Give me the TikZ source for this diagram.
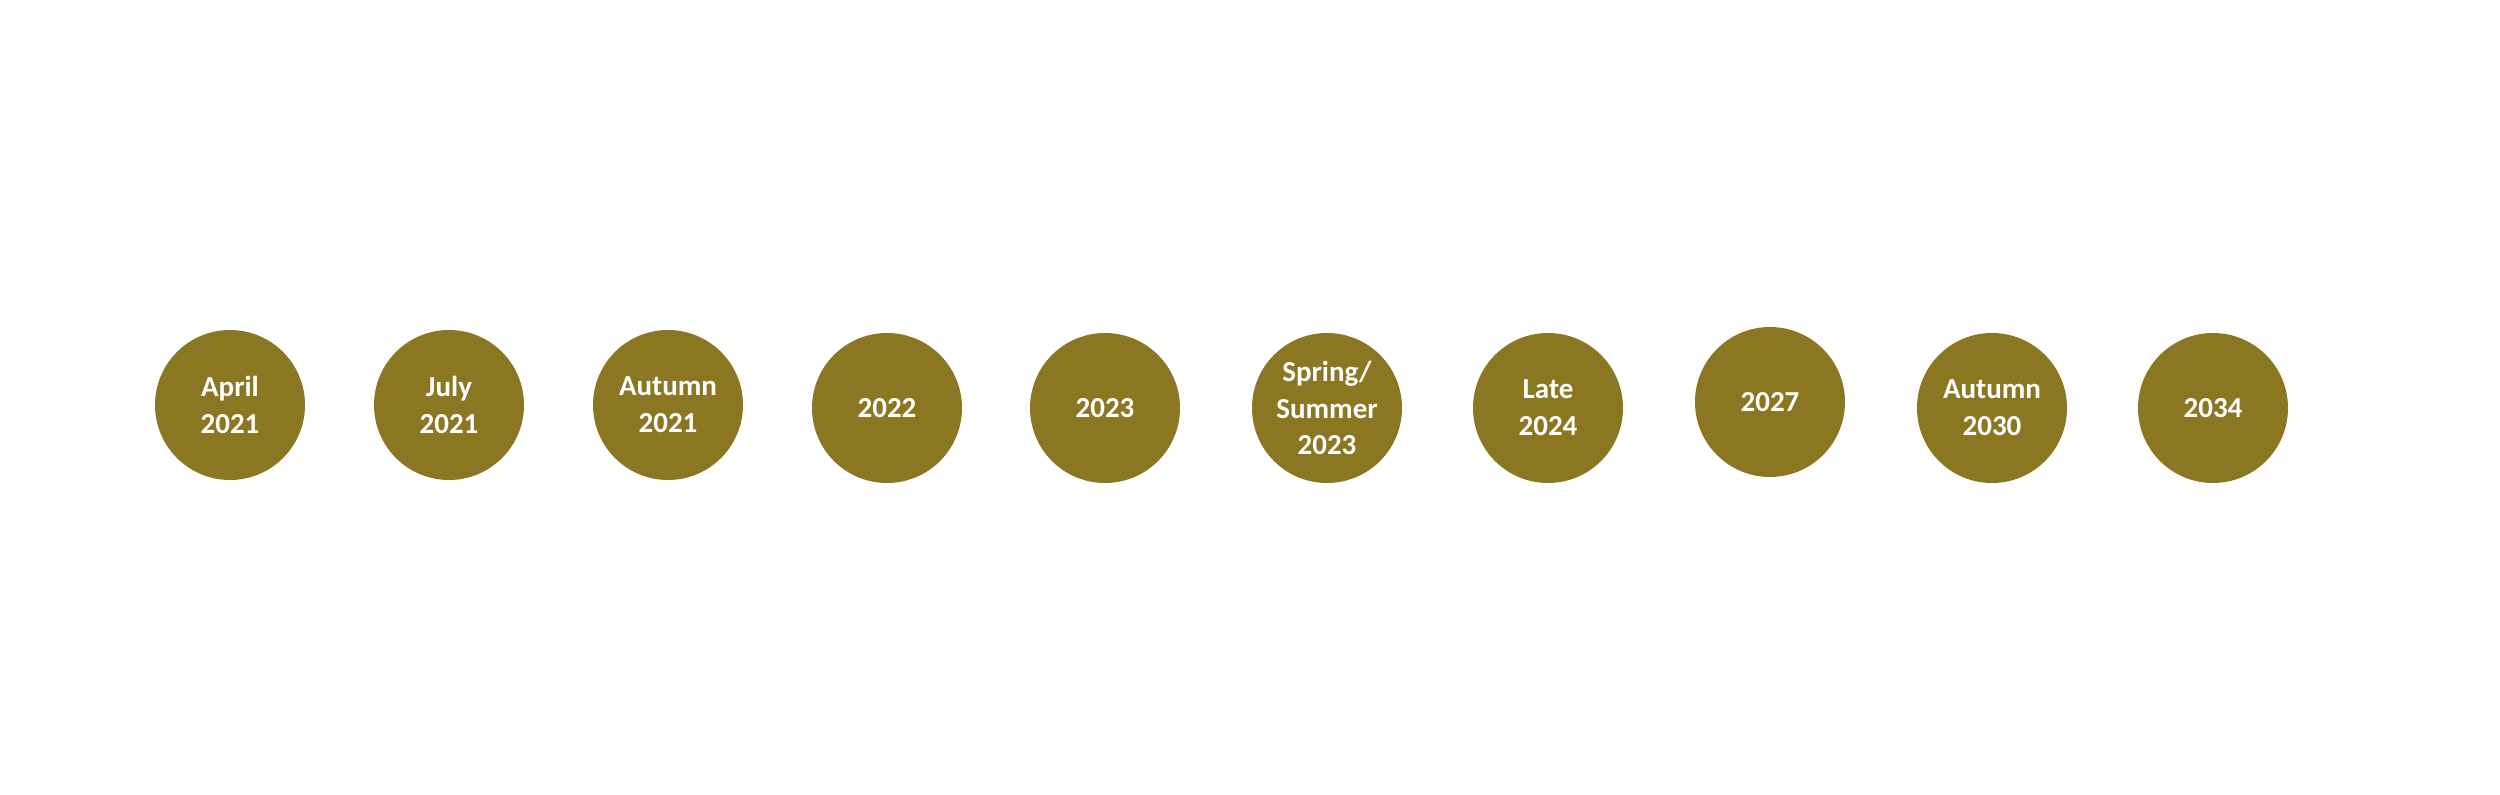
\documentclass[tikz,border=0pt]{standalone}
\usepackage{fontspec}
\setmainfont{Carlito}
\definecolor{milestone}{HTML}{8B7622}
\tikzset{
	date/.style={circle, fill=milestone, draw=none, minimum size=150*0.3pt, inner sep=0pt,
		text=white, align=center, font=\fontsize{8.7pt}{11pt}\selectfont\bfseries}
}
\begin{document}
\begin{tikzpicture}[x=0.3pt, y=-0.3pt]
	\useasboundingbox (0,0) rectangle (2500,795);
	% milestones, left to right (pixel grid of the page)
	\node[date] (apr21) at (230,405) {April\\2021};
	\node[date] (jul21) at (449,405) {July\\2021};
	\node[date] (aut21) at (668,405) {Autumn\\2021};
	\node[date] (y22) at (887,408) {2022};
	\node[date] (y23) at (1105,408) {2023};
	\node[date] (spr23) at (1327,408) {Spring/\\Summer\\2023};
	\node[date] (late24) at (1548,408) {Late\\2024};
	\node[date] (y27) at (1770,402) {2027};
	\node[date] (aut30) at (1992,408) {Autumn\\2030};
	\node[date] (y34) at (2213,408) {2034};
\end{tikzpicture}
\end{document}
